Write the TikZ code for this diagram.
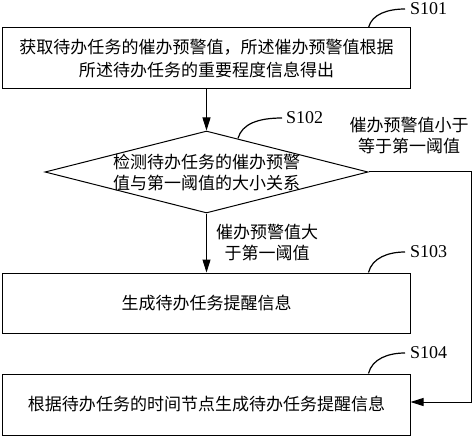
\documentclass[tikz,border=0pt]{standalone}
\usepackage{fontspec}
\setmainfont{Liberation Serif}
\newfontfamily\cjk{Noto Sans CJK SC}
\usepackage{tikz}
\usetikzlibrary{
    positioning,
    arrows.meta,
    shapes.geometric
}
\tikzset{
    stepbox/.style={draw, line width=1bp, minimum width=407bp, inner sep=0pt,
        align=center, font=\cjk\fontsize{17bp}{23bp}\selectfont},
    decision/.style={draw, line width=1bp, shape=diamond, minimum width=323bp,
        minimum height=82bp, inner sep=0pt},
    cjktext/.style={inner sep=0pt, align=center, font=\cjk\fontsize{17bp}{21bp}\selectfont},
    steplabel/.style={inner sep=0pt, anchor=west, font=\fontsize{18bp}{20bp}\selectfont},
    arr/.style={line width=1bp, -{Triangle[length=13bp,width=8bp]}},
    lead/.style={line width=1.2bp}
}
\begin{document}
\begin{tikzpicture}[x=1bp,y=-1bp]
        \useasboundingbox (0,0) rectangle (474,438);
        % 各ステップ
        \node[stepbox, minimum height=61bp] (get) at (206.5,58.5)
            {获取待办任务的催办预警值，所述催办预警值根据\\所述待办任务的重要程度信息得出};
        \node[decision] (check) at (206.5,172) {};
        \node[cjktext] (checktext) at (check.center)
            {检测待办任务的催办预警\\值与第一阈值的大小关系};
        \node[stepbox, minimum height=60bp] (gen) at (206.5,303) {生成待办任务提醒信息};
        \node[stepbox, minimum height=61bp] (bytime) at (206.5,404.5)
            {根据待办任务的时间节点生成待办任务提醒信息};
        % 矢印
        \coordinate (turn) at (471,402);
        \draw[arr] (get) -- (check);
        \draw[arr] (check) -- (gen)
            node[cjktext, midway, right=9bp] (gtlabel) {催办预警值大\\于第一阈值};
        \draw[arr] (check.east) -| (turn) -- (turn -| bytime.east);
        \node[cjktext] (lelabel) at (409,136) {催办预警值小于\\等于第一阈值};
        % ステップ番号
        \node[steplabel] (s101) at (410,9) {S101};
        \node[steplabel] (s102) at (286,118) {S102};
        \node[steplabel] (s103) at (410,252) {S103};
        \node[steplabel] (s104) at (410,353) {S104};
        \coordinate (f101) at ([xshift=-42bp]get.north east);
        \coordinate (f102) at (238,138.3);
        \coordinate (f103) at ([xshift=-42bp]gen.north east);
        \coordinate (f104) at ([xshift=-42bp]bytime.north east);
        \draw[lead] (f101) .. controls (372,14) and (388,9) .. ([xshift=-5bp]s101.west);
        \draw[lead] (f102) .. controls (242,124) and (258,118) .. ([xshift=-4bp]s102.west);
        \draw[lead] (f103) .. controls (372,258) and (388,252) .. ([xshift=-5bp]s103.west);
        \draw[lead] (f104) .. controls (372,359) and (388,353) .. ([xshift=-5bp]s104.west);
\end{tikzpicture}
\end{document}
